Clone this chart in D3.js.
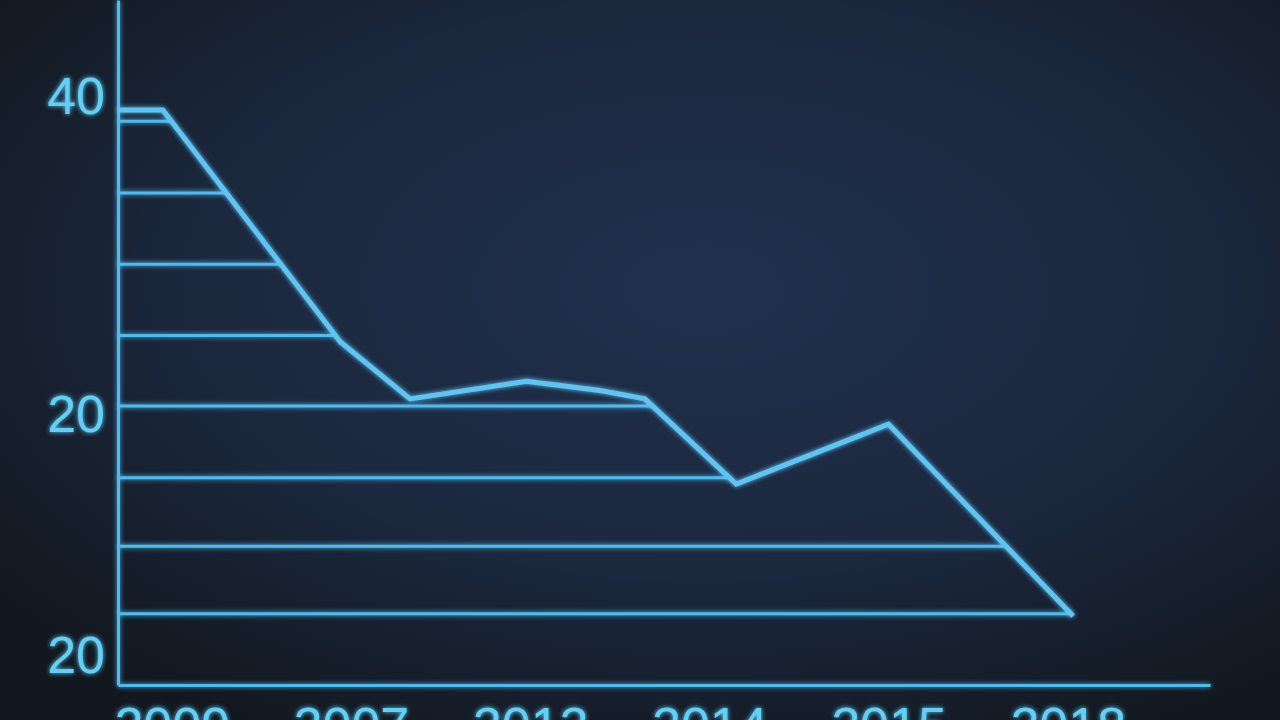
<!DOCTYPE html>
<html>
<head>
<meta charset="utf-8">
<script src="https://cdn.jsdelivr.net/npm/d3@7"></script>
<style>
  html, body { margin: 0; padding: 0; background: #141b25; overflow: hidden; }
  #chart svg { display: block; }
  .axis text { font-family: "Liberation Sans", Arial, sans-serif; font-size: 52px; fill: #62cff5; }
</style>
</head>
<body>
<div id="chart"></div>
<script>
// year labels along the bottom, one per slot
const xTickLabels = ["2009", "2007", "2012", "2014", "2015", "2018"];
// y tick labels and where they sit (in grid levels)
const yTickLabels = ["20", "20", "40"];
const yTickValues = [0.42, 3.83, 8.35];
// line points: x in year slots, y in grid levels
const xValues = [-0.30, -0.05, 0.94, 1.33, 1.98, 2.39, 2.64, 3.15, 4.00, 5.03];
const yValues = [8.16, 8.16, 4.87, 4.06, 4.31, 4.18, 4.06, 2.85, 3.70, 0.98];
// horizontal guide lines, drawn from the axis up to the line
const gridLevels = [1.01, 1.97, 2.94, 3.96, 4.96, 5.97, 6.98, 8.0];

const width = 1280;
const height = 720;
const lineColor = "#4fbcef";

const data = xValues.map((d, i) => ({x: d, y: yValues[i]}));

const x = d3.scaleLinear()
    .domain([-0.3, 5.794])
    .range([118, 1210]);

const y = d3.scaleLinear()
    .domain([0, 9.72])
    .range([685, 0]);

const svg = d3.select("#chart")
    .append("svg")
    .attr("width", width)
    .attr("height", height);

const defs = svg.append("defs");

const bg = defs.append("radialGradient")
    .attr("id", "bg")
    .attr("cx", "55%").attr("cy", "40%").attr("r", "70%");
bg.append("stop").attr("offset", "0%").attr("stop-color", "#20304d");
bg.append("stop").attr("offset", "55%").attr("stop-color", "#1b283e");
bg.append("stop").attr("offset", "100%").attr("stop-color", "#12181f");

// user space units so thin straight lines still get the glow;
// region is wide so translated groups are not clipped
const glow = defs.append("filter")
    .attr("id", "glow")
    .attr("filterUnits", "userSpaceOnUse")
    .attr("x", -1500).attr("y", -1000)
    .attr("width", 3000).attr("height", 2000);
glow.append("feGaussianBlur").attr("stdDeviation", 2.5).attr("result", "blur");
const merge = glow.append("feMerge");
merge.append("feMergeNode").attr("in", "blur");
merge.append("feMergeNode").attr("in", "SourceGraphic");

svg.append("rect")
    .attr("width", width)
    .attr("height", height)
    .attr("fill", "url(#bg)");

// where the line first drops below a level, going left to right
function crossing(level) {
    for (let i = 0; i < data.length - 1; i++) {
        const a = data[i], b = data[i + 1];
        if (a.y >= level && b.y < level) {
            const t = (a.y - level) / (a.y - b.y);
            return a.x + t * (b.x - a.x);
        }
    }
    return data[data.length - 1].x;
}

svg.append("g")
    .attr("filter", "url(#glow)")
    .selectAll("line")
    .data(gridLevels)
    .join("line")
    .attr("x1", x(-0.3))
    .attr("x2", d => x(crossing(d)))
    .attr("y1", d => y(d))
    .attr("y2", d => y(d))
    .attr("stroke", lineColor)
    .attr("stroke-width", 3);

// axes
svg.append("g")
    .attr("class", "axis")
    .attr("transform", "translate(0,685)")
    .call(d3.axisBottom(x)
        .tickValues(d3.range(xTickLabels.length))
        .tickFormat(i => xTickLabels[i])
        .tickSize(0)
        .tickSizeOuter(0)
        .tickPadding(22));

svg.append("g")
    .attr("class", "axis")
    .attr("transform", "translate(118,0)")
    .call(d3.axisLeft(y)
        .tickValues(yTickValues)
        .tickFormat((d, i) => yTickLabels[i])
        .tickSize(0)
        .tickSizeOuter(0)
        .tickPadding(13));

svg.selectAll(".axis")
    .attr("filter", "url(#glow)");
svg.selectAll(".axis .domain")
    .attr("stroke", lineColor)
    .attr("stroke-width", 3);

svg.append("path")
    .datum(data)
    .attr("fill", "none")
    .attr("stroke", "#5ec4f2")
    .attr("stroke-width", 5)
    .attr("stroke-linejoin", "miter")
    .attr("filter", "url(#glow)")
    .attr("d", d3.line()
        .x(d => x(d.x))
        .y(d => y(d.y)));
</script>
</body>
</html>
